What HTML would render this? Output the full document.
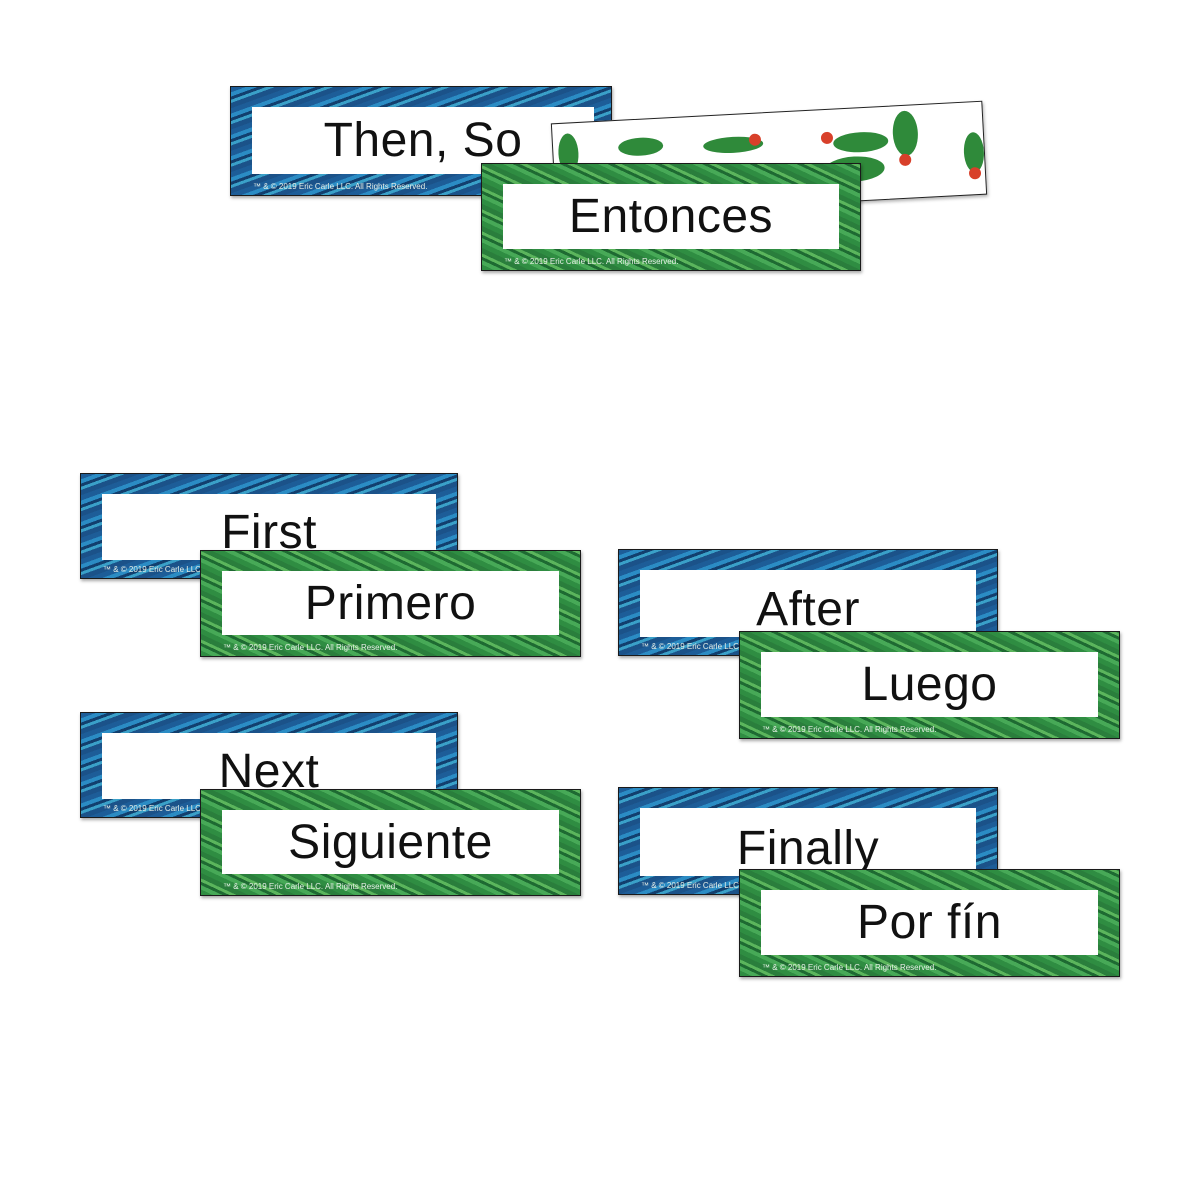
<!DOCTYPE html>
<html><head><meta charset="utf-8"><style>
body{margin:0;width:1200px;height:1200px;background:#fff;position:relative;overflow:hidden;font-family:"Liberation Sans",sans-serif}
.c{position:absolute;border:1.5px solid #1a1a1a;box-sizing:border-box;box-shadow:1px 2px 3px rgba(0,0,0,.35)}
.b{background:repeating-linear-gradient(160deg,#1d5d98 0 5px,#2b8cc4 5px 9px,#123f6e 9px 12px,#3aa0c8 12px 15px,#1b5289 15px 20px)}
.g{background:repeating-linear-gradient(25deg,#2f8d42 0 5px,#47a957 5px 9px,#1e6a32 9px 12px,#5bb55c 12px 15px,#2a7e3c 15px 20px)}
.w{position:absolute;left:21px;right:21px;top:20px;bottom:21px;background:#fff;display:flex;align-items:center;justify-content:center;font-size:48px;color:#111;letter-spacing:0.5px}
.cp{position:absolute;left:22px;bottom:4px;font-size:8px;color:#e8f0e8;white-space:nowrap}
.cat{position:absolute;left:553px;top:112px;width:432px;height:94px;background:#fff;border:1.5px solid #222;box-sizing:border-box;transform:rotate(-3deg);box-shadow:1px 2px 3px rgba(0,0,0,.3);overflow:hidden}
.cat i{position:absolute;background:#2f8a3a;border-radius:50%}
.cat u{position:absolute;background:#d8402a;border-radius:50%;width:12px;height:12px}
</style></head><body>
<div class="c b" style="left:230px;top:86px;width:382px;height:110px"><div class="w" style="right:17px">Then, So</div><div class="cp">™ &amp; © 2019 Eric Carle LLC. All Rights Reserved.</div></div>
<div class="cat">
<i style="left:5px;top:10px;width:20px;height:40px"></i><u style="left:2px;top:40px"></u>
<i style="left:65px;top:18px;width:45px;height:18px"></i>
<i style="left:150px;top:22px;width:60px;height:16px"></i><u style="left:196px;top:20px"></u>
<i style="left:280px;top:24px;width:55px;height:20px"></i><u style="left:268px;top:22px"></u>
<i style="left:340px;top:5px;width:25px;height:45px"></i><u style="left:345px;top:48px"></u>
<i style="left:270px;top:48px;width:60px;height:25px"></i>
<i style="left:150px;top:62px;width:30px;height:10px"></i>
<i style="left:410px;top:30px;width:20px;height:40px"></i><u style="left:414px;top:65px"></u>
</div>
<div class="c g" style="left:481px;top:163px;width:380px;height:108px"><div class="w">Entonces</div><div class="cp">™ &amp; © 2019 Eric Carle LLC. All Rights Reserved.</div></div>

<div class="c b" style="left:80px;top:473px;width:378px;height:106px"><div class="w" style="top:20px;bottom:18px;align-items:flex-end;padding-bottom:0">First</div><div class="cp">™ &amp; © 2019 Eric Carle LLC</div></div>
<div class="c g" style="left:200px;top:550px;width:381px;height:107px"><div class="w">Primero</div><div class="cp">™ &amp; © 2019 Eric Carle LLC. All Rights Reserved.</div></div>

<div class="c b" style="left:80px;top:712px;width:378px;height:106px"><div class="w" style="top:20px;bottom:18px;align-items:flex-end">Next</div><div class="cp">™ &amp; © 2019 Eric Carle LLC</div></div>
<div class="c g" style="left:200px;top:789px;width:381px;height:107px"><div class="w">Siguiente</div><div class="cp">™ &amp; © 2019 Eric Carle LLC. All Rights Reserved.</div></div>

<div class="c b" style="left:618px;top:549px;width:380px;height:107px"><div class="w" style="top:20px;bottom:18px;align-items:flex-end">After</div><div class="cp">™ &amp; © 2019 Eric Carle LLC</div></div>
<div class="c g" style="left:739px;top:631px;width:381px;height:108px"><div class="w">Luego</div><div class="cp">™ &amp; © 2019 Eric Carle LLC. All Rights Reserved.</div></div>

<div class="c b" style="left:618px;top:787px;width:380px;height:108px"><div class="w" style="top:20px;bottom:18px;align-items:flex-end">Finally</div><div class="cp">™ &amp; © 2019 Eric Carle LLC</div></div>
<div class="c g" style="left:739px;top:869px;width:381px;height:108px"><div class="w">Por fín</div><div class="cp">™ &amp; © 2019 Eric Carle LLC. All Rights Reserved.</div></div>
</body></html>
